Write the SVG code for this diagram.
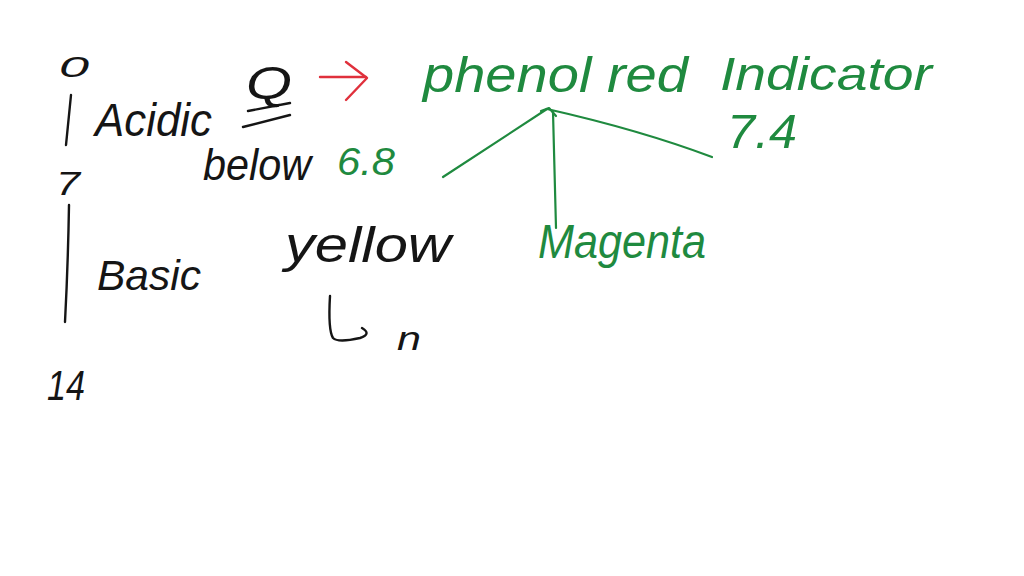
<svg xmlns="http://www.w3.org/2000/svg" width="1024" height="576" viewBox="0 0 1024 576">
<style>
.t{font-family:"Liberation Sans",Arial,sans-serif;font-style:italic}
.k{fill:#151515}
.g{fill:#1f8a3f}
.sk{fill:none;stroke:#151515;stroke-width:2.4;stroke-linecap:round;stroke-linejoin:round}
.sg{fill:none;stroke:#1f8a3f;stroke-width:2.2;stroke-linecap:round;stroke-linejoin:round}
.sr{fill:none;stroke:#e0303c;stroke-width:2.4;stroke-linecap:round;stroke-linejoin:round}
</style>
<rect width="1024" height="576" fill="#ffffff"/>
<g id="scale">
<text class="t k" x="59" y="77" font-size="30" textLength="30" lengthAdjust="spacingAndGlyphs">0</text>
<text class="t k" x="56" y="195" font-size="34" textLength="24" lengthAdjust="spacingAndGlyphs">7</text>
<text class="t k" x="47" y="400" font-size="42" textLength="38" lengthAdjust="spacingAndGlyphs">14</text>
<path class="sk" d="M71 95 L66 145"/>
<path class="sk" d="M69 205 Q68 265 65 322"/>
</g>
<g id="acidic">
<text class="t k" x="95" y="136" font-size="46" textLength="117" lengthAdjust="spacingAndGlyphs">Acidic</text>
</g>
<g id="question">
<text class="t k" x="246" y="99" font-size="46" textLength="46" lengthAdjust="spacingAndGlyphs">Q</text>
<path class="sk" d="M248 111 L290 103"/>
<path class="sk" d="M243 127 L290 115"/>
</g>
<g id="below">
<text class="t k" x="203" y="180" font-size="44" textLength="108" lengthAdjust="spacingAndGlyphs">below</text>
<text class="t g" x="337" y="175" font-size="38" textLength="58" lengthAdjust="spacingAndGlyphs">6.8</text>
</g>
<g id="basic">
<text class="t k" x="97" y="290" font-size="42" textLength="104" lengthAdjust="spacingAndGlyphs">Basic</text>
</g>
<g id="yellow">
<text class="t k" x="285" y="262" font-size="50" textLength="166" lengthAdjust="spacingAndGlyphs">yellow</text>
<text class="t k" x="397" y="350" font-size="34" textLength="24" lengthAdjust="spacingAndGlyphs">n</text>
</g>
<g id="phenol-red">
<text class="t g" x="423" y="92" font-size="50" textLength="265" lengthAdjust="spacingAndGlyphs">phenol red</text>
</g>
<g id="indicator">
<text class="t g" x="720" y="90" font-size="46" textLength="212" lengthAdjust="spacingAndGlyphs">Indicator</text>
<text class="t g" x="727" y="148" font-size="48" textLength="70" lengthAdjust="spacingAndGlyphs">7.4</text>
</g>
<g id="magenta">
<text class="t g" x="538" y="258" font-size="48" textLength="168" lengthAdjust="spacingAndGlyphs">Magenta</text>
</g>
<g id="connectors">
<path class="sr" d="M320 77 L366 77"/>
<path class="sr" d="M346 62 L367 78 L346 100"/>
<path class="sg" d="M443 177 Q500 140 547 109"/>
<path class="sg" d="M547 109 Q640 130 712 157"/>
<path class="sg" d="M553 112 L556 228"/>
<path class="sg" d="M541 111 L549 108 L556 116"/>
<path class="sk" d="M330 296 Q328 330 333 338 Q338 343 360 338 Q372 334 362 328"/>
</g>
</svg>
